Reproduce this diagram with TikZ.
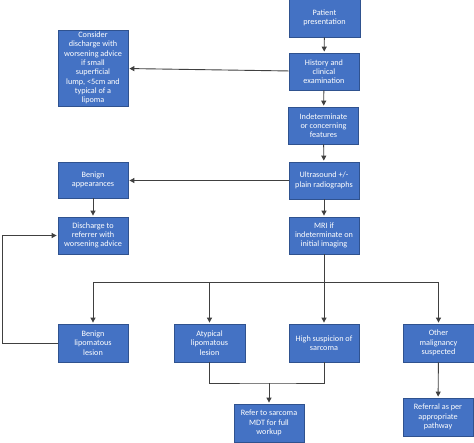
\documentclass[tikz,border=0pt]{standalone}
\usepackage{fontspec}
\setmainfont{Carlito}
\usetikzlibrary{arrows.meta}
\definecolor{boxfill}{HTML}{4472C4}
\definecolor{boxline}{HTML}{2F528F}
\definecolor{arrowc}{HTML}{404040}
\begin{document}
\begin{tikzpicture}[x=1pt,y=-1pt,
  flowbox/.style={draw=boxline,fill=boxfill,line width=0.8pt,text=white,
    minimum width=70pt,minimum height=37pt,inner sep=1pt,align=center,
    font=\fontsize{8.2}{9.3}\selectfont},
  flowarrow/.style={draw=arrowc,line width=0.9pt,-{Triangle[width=5pt,length=5pt]},shorten >=1pt},
  flowline/.style={draw=arrowc,line width=0.9pt}]
\fill[white] (0,0) rectangle (474,442);
\useasboundingbox (0,0) rectangle (474,442);

\node[flowbox,minimum height=38pt,minimum width=71pt] (pp) at (324.5,18) {Patient\\presentation};
\node[flowbox] (he) at (324,71.5) {History and\\clinical\\examination};
\node[flowbox] (ind) at (323.5,125.5) {Indeterminate\\or concerning\\features};
\node[flowbox] (us) at (324,180.5) {Ultrasound +/-\\plain radiographs};
\node[flowbox] (mri) at (324,235.5) {MRI if\\indeterminate on\\initial imaging};

\node[flowbox,minimum height=76pt] (cd) at (93,68) {Consider\\discharge with\\worsening advice\\if small\\superficial\\lump, <5cm and\\typical of a\\lipoma};
\node[flowbox,minimum height=36pt] (ba) at (93,180) {Benign\\appearances};
\node[flowbox] (dr) at (93,235.5) {Discharge to\\referrer with\\worsening advice};

\node[flowbox,minimum height=38pt] (bl) at (93,343) {Benign\\lipomatous\\lesion};
\node[flowbox,minimum height=38pt,minimum width=71pt] (al) at (209.5,343) {Atypical\\lipomatous\\lesion};
\node[flowbox,minimum height=38pt] (hs) at (324,343) {High suspicion of\\sarcoma};
\node[flowbox,minimum height=38pt,minimum width=71pt] (om) at (438.5,343) {Other\\malignancy\\suspected};

\node[flowbox,minimum height=38pt] (rs) at (269,423) {Refer to sarcoma\\MDT for full\\workup};
\node[flowbox,minimum height=38pt] (rp) at (438,417) {Referral as per\\appropriate\\pathway};

% main column
\draw[flowarrow] (pp) -- (he);
\draw[flowarrow] (he) -- (ind);
\draw[flowarrow] (ind) -- (us);
\draw[flowarrow] (us) -- (mri);
\draw[flowarrow] (mri) -- (hs);

% side branches
\draw[flowarrow] (he) -- (cd);
\draw[flowarrow] (us.west) -- (ba.east |- us.west);
\draw[flowarrow] (ba) -- (dr);

% bus
\coordinate (busL) at (93,282);
\coordinate (busR) at (438.5,282);
\draw[flowline] (busL) -- (busR);
\draw[flowarrow] (busL) -- (bl);
\draw[flowarrow] (busL -| al) -- (al);
\draw[flowarrow] (busR) -- (om);

% join to sarcoma MDT
\coordinate (join) at (269,383);
\draw[flowline] (al.south) |- (join) -| (hs.south);
\draw[flowarrow] (join) -- (rs);

\draw[flowarrow] (om) -- (rp);

% loop back
\coordinate (loopx) at (2,343);
\draw[flowarrow] (bl.west) -- (loopx) |- (dr.west);
\end{tikzpicture}
\end{document}
